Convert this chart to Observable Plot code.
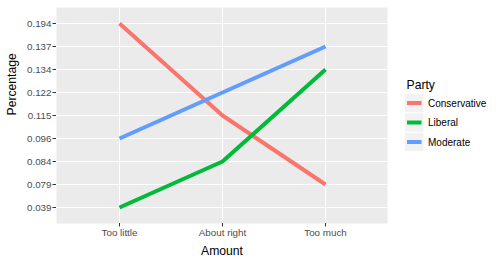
<!DOCTYPE html>
<html>
<head>
<meta charset="utf-8">
<script src="https://cdn.jsdelivr.net/npm/d3@7"></script>
<script src="https://cdn.jsdelivr.net/npm/@observablehq/plot@0.6"></script>
<style>
  html, body { margin: 0; padding: 0; background: #fff; }
  #chart { width: 500px; height: 260px; }
  svg { font-family: "Liberation Sans", Arial, sans-serif; }
</style>
</head>
<body>
<div id="chart"></div>
<script>
const amounts = ["Too little", "About right", "Too much"];
const parties = ["Conservative", "Liberal", "Moderate"];
const conservative = [0.194, 0.115, 0.079];
const liberal = [0.039, 0.084, 0.134];
const moderate = [0.096, 0.122, 0.137];
const yTicks = [0.194, 0.137, 0.134, 0.122, 0.115, 0.096, 0.084, 0.079, 0.039];
const colors = ["#F8766D", "#00BA38", "#619CFF"];

const series = {Conservative: conservative, Liberal: liberal, Moderate: moderate};
const data = [];
for (const p of parties) amounts.forEach((a, i) => data.push({party: p, amount: a, pct: series[p][i]}));

const W = 500, H = 260;
const plot = Plot.plot({
  width: W,
  height: H,
  marginLeft: 56,
  marginRight: 113,
  marginTop: 7,
  marginBottom: 37,
  style: {fontFamily: "Liberation Sans, Arial, sans-serif", background: "#fff"},
  x: {type: "point", domain: amounts, padding: 0.6, label: null},
  y: {type: "point", domain: yTicks, padding: 0.6, label: null},
  color: {domain: parties, range: colors},
  marks: [
    Plot.frame({fill: "#EBEBEB", stroke: null}),
    Plot.gridY(yTicks, {stroke: "#fff", strokeOpacity: 1, strokeWidth: 1.1}),
    Plot.gridX(amounts, {stroke: "#fff", strokeOpacity: 1, strokeWidth: 1.1}),
    Plot.line(data, {x: "amount", y: "pct", z: "party", stroke: "party", strokeWidth: 4, strokeLinecap: "butt", strokeLinejoin: "round"}),
    Plot.axisY(yTicks, {tickSize: 3.5, tickPadding: 1.5, tickFormat: d => d.toFixed(3), fontSize: 9.8, fill: "#4D4D4D", stroke: "#333", label: null}),
    Plot.axisX(amounts, {tickSize: 3.5, tickPadding: 2.5, fontSize: 9.8, fill: "#4D4D4D", stroke: "#333", label: null}),
    Plot.text(["Amount"], {frameAnchor: "bottom", dy: 31, fontSize: 12.2, fill: "#000"}),
    Plot.text(["Percentage"], {frameAnchor: "left", dx: -44, rotate: -90, fontSize: 12.2, fill: "#000"})
  ]
});
document.getElementById("chart").appendChild(plot);

// Legend
const color = plot.scale("color");
const svg = d3.select(plot);
const lg = svg.append("g")
  .attr("font-family", "Liberation Sans, Arial, sans-serif")
  .attr("text-anchor", "start");
lg.append("text").attr("x", 406.5).attr("y", 85).attr("dy", "0.35em")
  .attr("font-size", 12.2).attr("fill", "#000").text("Party");
parties.forEach((p, i) => {
  const cy = 103 + i * 19.5;
  lg.append("rect").attr("x", 405).attr("y", cy - 9.2).attr("width", 18.5).attr("height", 18.4).attr("fill", "#F2F2F2");
  lg.append("line").attr("x1", 407).attr("x2", 421.5).attr("y1", cy).attr("y2", cy)
    .attr("stroke", color.apply(p)).attr("stroke-width", 4);
  lg.append("text").attr("x", 428).attr("y", cy).attr("dy", "0.35em")
    .attr("font-size", 10).attr("fill", "#000").text(p);
});
</script>
</body>
</html>
